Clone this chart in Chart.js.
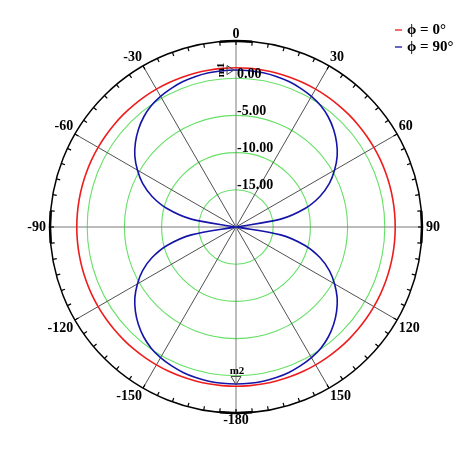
<!DOCTYPE html>
<html>
<head>
<meta charset="utf-8">
<script src="https://cdn.jsdelivr.net/npm/chart.js@4.4.1/dist/chart.umd.min.js"></script>
<style>
  html, body { margin: 0; padding: 0; background: #fff; }
  #wrap { width: 474px; height: 450px; position: relative; }
</style>
</head>
<body>
<div id="wrap"><canvas id="c"></canvas></div>
<script>
// Angle categories (degrees, clockwise from top)
const angles = [0,5,10,15,20,25,30,35,40,45,50,55,60,65,70,75,80,85,90,95,100,105,110,115,120,125,130,135,140,145,150,155,160,165,170,175,
  -180,-175,-170,-165,-160,-155,-150,-145,-140,-135,-130,-125,-120,-115,-110,-105,-100,-95,-90,-85,-80,-75,-70,-65,-60,-55,-50,-45,-40,-35,-30,-25,-20,-15,-10,-5];

// phi = 0 deg (dB)
const phi0 = [1.4,1.4,1.4,1.4,1.4,1.4,1.4,1.4,1.4,1.4,1.4,1.4,1.4,1.4,1.4,1.4,1.4,1.4,1.4,1.4,1.4,1.4,1.4,1.4,1.4,1.4,1.4,1.4,1.4,1.4,1.4,1.4,1.4,1.4,1.4,1.4,
  1.4,1.4,1.4,1.4,1.4,1.4,1.4,1.4,1.4,1.4,1.4,1.4,1.4,1.4,1.4,1.4,1.4,1.4,1.4,1.4,1.4,1.4,1.4,1.4,1.4,1.4,1.4,1.4,1.4,1.4,1.4,1.4,1.4,1.4,1.4,1.4];

// phi = 90 deg (dB)
const phi90 = [1.1,1.09,1.05,0.95,0.8,0.57,0.28,-0.12,-0.7,-1.45,-2.35,-3.4,-4.7,-6.15,-8.0,-10.4,-13.9,-19.8,-20,-19.8,-13.9,-10.4,-8.0,-6.15,-4.7,-3.4,-2.35,-1.45,-0.7,-0.12,0.28,0.57,0.8,0.95,1.05,1.09,
  1.1,1.09,1.05,0.95,0.8,0.57,0.28,-0.12,-0.7,-1.45,-2.35,-3.4,-4.7,-6.15,-8.0,-10.4,-13.9,-19.8,-20,-19.8,-13.9,-10.4,-8.0,-6.15,-4.7,-3.4,-2.35,-1.45,-0.7,-0.12,0.28,0.57,0.8,0.95,1.05,1.09];

// Radial tick labels
const rTickValues = [0, -5, -10, -15];
const rTickLabels = ['0.00', '-5.00', '-10.00', '-15.00'];

const seriesNames = ['\u03D5 = 0\u00B0', '\u03D5 = 90\u00B0'];
const seriesColors = ['#ee1c1c', '#1414a8'];

const SERIF = "'Liberation Serif', 'Times New Roman', 'DejaVu Serif', serif";

const decorPlugin = {
  id: 'decor',
  afterDraw(chart) {
    const s = chart.scales.r;
    const ctx = chart.ctx;
    const xc = s.xCenter, yc = s.yCenter;
    const R = s.getDistanceFromCenterForValue(s.max);
    ctx.save();
    // outer small ticks (inward)
    ctx.strokeStyle = '#000';
    ctx.lineWidth = 1.2;
    for (let i = 0; i < angles.length; i++) {
      const p1 = s.getPointPosition(i, R);
      const p2 = s.getPointPosition(i, R - 4);
      ctx.beginPath();
      ctx.moveTo(p1.x, p1.y);
      ctx.lineTo(p2.x, p2.y);
      ctx.stroke();
    }
    // major tangent bars at 0, 90, 180, -90
    ctx.lineWidth = 2.5;
    [0, 18, 36, 54].forEach(i => {
      const a = s.getIndexAngle(i) - Math.PI / 2;
      const d = 5 * Math.PI / 180;
      ctx.beginPath();
      ctx.arc(xc, yc, R, a - d, a + d);
      ctx.stroke();
    });
    // radial tick labels
    ctx.fillStyle = '#000';
    ctx.font = 'bold 14px ' + SERIF;
    ctx.textAlign = 'left';
    ctx.textBaseline = 'middle';
    rTickValues.forEach((v, k) => {
      const d = s.getDistanceFromCenterForValue(v);
      ctx.fillText(rTickLabels[k], xc + 1, yc - d - 4);
    });
    // markers m1 / m2
    const top = s.getPointPosition(0, s.getDistanceFromCenterForValue(phi90[0]));
    const bot = s.getPointPosition(36, s.getDistanceFromCenterForValue(phi90[36]));
    ctx.strokeStyle = '#444';
    ctx.lineWidth = 1;
    ctx.beginPath();
    ctx.moveTo(top.x - 2, top.y);
    ctx.lineTo(top.x - 9, top.y - 4.5);
    ctx.lineTo(top.x - 9, top.y + 4.5);
    ctx.closePath();
    ctx.stroke();
    ctx.beginPath();
    ctx.moveTo(bot.x, bot.y + 0.5);
    ctx.lineTo(bot.x - 5, bot.y - 7.5);
    ctx.lineTo(bot.x + 5, bot.y - 7.5);
    ctx.closePath();
    ctx.stroke();
    ctx.fillStyle = '#000';
    ctx.font = 'bold 11px ' + SERIF;
    ctx.textAlign = 'center';
    ctx.textBaseline = 'middle';
    ctx.fillText('m2', bot.x + 1, bot.y - 13);
    ctx.save();
    ctx.translate(top.x - 15, top.y);
    ctx.rotate(-Math.PI / 2);
    ctx.fillText('m1', 0, 0);
    ctx.restore();
    // legend
    ctx.font = 'bold 15px ' + SERIF;
    ctx.textAlign = 'left';
    ctx.textBaseline = 'middle';
    const ly = [30, 47];
    seriesNames.forEach((n, k) => {
      ctx.strokeStyle = seriesColors[k];
      ctx.lineWidth = 1.3;
      ctx.beginPath();
      ctx.moveTo(395, ly[k]);
      ctx.lineTo(402, ly[k]);
      ctx.stroke();
      ctx.fillStyle = '#000';
      ctx.fillText(n, 407, ly[k]);
    });
    ctx.restore();
  }
};

new Chart(document.getElementById('c'), {
  type: 'radar',
  data: {
    labels: angles,
    datasets: [
      { label: seriesNames[0], data: phi0, borderColor: seriesColors[0], borderWidth: 1.6, pointRadius: 0, fill: false, tension: 0.3 },
      { label: seriesNames[1], data: phi90, borderColor: seriesColors[1], borderWidth: 1.6, pointRadius: 0, fill: false, tension: 0.3 }
    ]
  },
  options: {
    responsive: true,
    maintainAspectRatio: false,
    animation: false,
    layout: { padding: { left: 0, right: 2, top: 27, bottom: 23 } },
    plugins: { legend: { display: false }, tooltip: { enabled: false } },
    scales: {
      r: {
        min: -20,
        max: 5,
        startAngle: 0,
        ticks: { display: false, stepSize: 5 },
        grid: {
          circular: true,
          color: c => c.tick.value === 5 ? '#000' : (c.tick.value === -20 ? 'rgba(0,0,0,0)' : '#66e066'),
          lineWidth: c => c.tick.value === 5 ? 1.5 : 1.1
        },
        angleLines: {
          display: true,
          color: c => (angles[c.index] % 90 === 0) ? '#7a7a7a' : '#505050',
          lineWidth: c => (angles[c.index] % 30 === 0) ? 1 : 0
        },
        pointLabels: {
          display: true,
          color: '#000',
          font: { family: SERIF, size: 14, weight: 'bold', lineHeight: 1 },
          padding: c => {
            const a = angles[c.index];
            if (a % 30 !== 0) return 0;
            if (a === 0 || a === -180) return 0;
            if (a === 90 || a === -90) return 4;
            return 2;
          },
          callback: (label) => (label % 30 === 0 ? String(label) : '')
        }
      }
    }
  },
  plugins: [decorPlugin]
});
</script>
</body>
</html>
